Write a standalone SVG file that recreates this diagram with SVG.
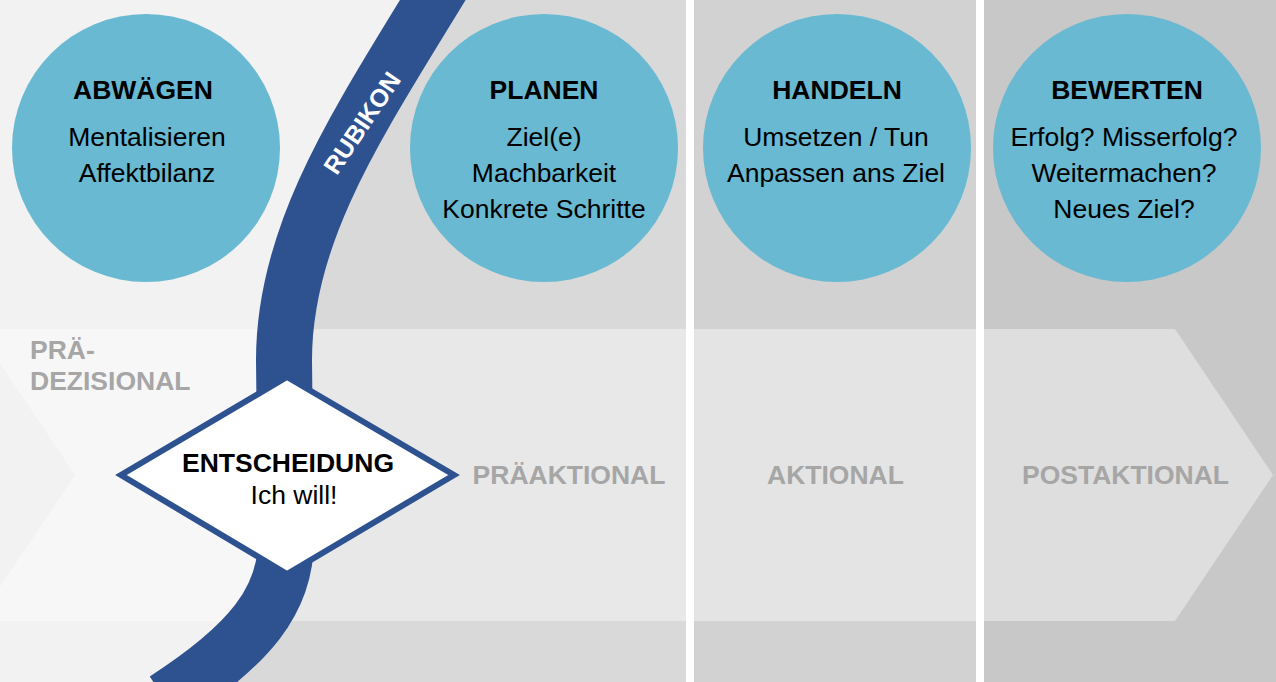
<svg xmlns="http://www.w3.org/2000/svg" width="1276" height="682" viewBox="0 0 1276 682">
  <style>
    .circ { fill: #68b9d1; }
    .title { font-family: "Liberation Sans", Arial, sans-serif; font-size: 26.5px; font-weight: bold; fill: #000; text-anchor: middle; }
    .line { font-family: "Liberation Sans", Arial, sans-serif; font-size: 26.5px; fill: #000; text-anchor: middle; }
    .phase { font-family: "Liberation Sans", Arial, sans-serif; font-size: 26.5px; font-weight: bold; fill: #a6a6a6; }
  </style>
  <g id="background">
    <rect x="0" y="0" width="1276" height="682" fill="#ffffff"/>
    <rect x="0" y="0" width="686" height="682" fill="#d9d9d9"/>
    <rect x="694" y="0" width="282" height="682" fill="#d2d2d2"/>
    <rect x="984" y="0" width="292" height="682" fill="#c8c8c8"/>
    <path d="M -10,-20 L 445,-20 C 360,120 284,230 284,360 L 286,540 C 286,600 250,645 165,700 L -10,700 Z" fill="#f2f2f2"/>
  </g>
  <g id="phase-arrow">
    <polygon points="-23,329 1175,329 1273,475 1175,621 -23,621 75,475" fill="#ffffff" fill-opacity="0.4"/>
  </g>
  <g id="connectors">
    <path id="rubikon-band" d="M 445,-20 C 360,120 284,230 284,360 L 286,540 C 286,600 250,645 165,700" fill="none" stroke="#2e5290" stroke-width="56"/>
    <text transform="translate(362,123) rotate(-56)" x="0" y="8.8" font-family="Liberation Sans, Arial, sans-serif" font-size="25" font-weight="bold" fill="#ffffff" text-anchor="middle">RUBIKON</text>
  </g>
  <g id="node-abwaegen">
    <circle class="circ" cx="146" cy="148" r="134"/>
    <text class="title" x="143" y="99">ABWÄGEN</text>
    <text class="line" x="147" y="146">Mentalisieren</text>
    <text class="line" x="147" y="182">Affektbilanz</text>
  </g>
  <g id="node-planen">
    <circle class="circ" cx="544" cy="148" r="134"/>
    <text class="title" x="544" y="99">PLANEN</text>
    <text class="line" x="544" y="146">Ziel(e)</text>
    <text class="line" x="544" y="182">Machbarkeit</text>
    <text class="line" x="544" y="218">Konkrete Schritte</text>
  </g>
  <g id="node-handeln">
    <circle class="circ" cx="837" cy="148" r="134"/>
    <text class="title" x="837" y="99">HANDELN</text>
    <text class="line" x="836" y="146">Umsetzen / Tun</text>
    <text class="line" x="836" y="182">Anpassen ans Ziel</text>
  </g>
  <g id="node-bewerten">
    <circle class="circ" cx="1127" cy="148" r="134"/>
    <text class="title" x="1127" y="99">BEWERTEN</text>
    <text class="line" x="1124" y="146">Erfolg? Misserfolg?</text>
    <text class="line" x="1124" y="182">Weitermachen?</text>
    <text class="line" x="1124" y="218">Neues Ziel?</text>
  </g>
  <g id="node-entscheidung">
    <polygon points="287,377 454,475 287,574 121,475" fill="#ffffff" stroke="#2e5290" stroke-width="6" stroke-linejoin="miter"/>
    <text class="title" x="288" y="472">ENTSCHEIDUNG</text>
    <text class="line" x="294" y="504">Ich will!</text>
  </g>
  <g id="phase-labels">
    <text class="phase" x="30" y="359">PRÄ-</text>
    <text class="phase" x="30" y="390">DEZISIONAL</text>
    <text class="phase" x="569" y="484" text-anchor="middle">PRÄAKTIONAL</text>
    <text class="phase" x="835.5" y="484" text-anchor="middle">AKTIONAL</text>
    <text class="phase" x="1125.5" y="484" text-anchor="middle">POSTAKTIONAL</text>
  </g>
</svg>
